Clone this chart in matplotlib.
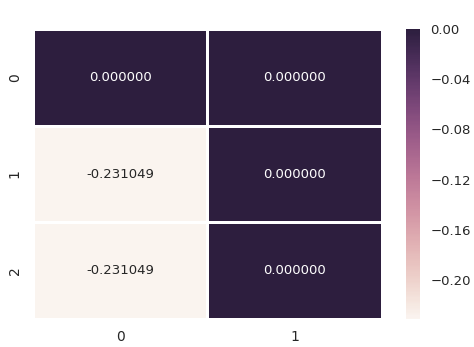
import numpy as np
import matplotlib
matplotlib.use("Agg")
import matplotlib.pyplot as plt
import seaborn as sns

sns.set_theme(style="darkgrid")
plt.rcParams['font.family'] = ['DejaVu Sans']

row_labels = ["0", "1", "2"]
col_labels = ["0", "1"]
values = np.array([
    [0.000000, 0.000000],
    [-0.231049, 0.000000],
    [-0.231049, 0.000000],
])

fig = plt.figure(figsize=(4.74, 3.47), dpi=100)
ax = fig.add_axes([0.0696, 0.081, 0.736, 0.835])
cax = fig.add_axes([0.857, 0.081, 0.030, 0.835])

cmap = sns.cubehelix_palette(light=0.96, as_cmap=True)
sns.heatmap(values, ax=ax, cbar_ax=cax, cmap=cmap, annot=True, fmt="f",
            linewidths=1, linecolor="white",
            xticklabels=col_labels, yticklabels=row_labels,
            annot_kws={"fontsize": 9.5})

ax.tick_params(axis="both", labelsize=10, length=0, pad=8)
ax.set_yticklabels(row_labels, rotation=90, va="center")
ax.set_xticklabels(col_labels, rotation=0)
cax.tick_params(labelsize=9.5, length=0, pad=7)
cax.set_yticks([0.0, -0.04, -0.08, -0.12, -0.16, -0.20])
cax.set_yticklabels(["0.00", "\u22120.04", "\u22120.08", "\u22120.12", "\u22120.16", "\u22120.20"])

fig.savefig("out.png", dpi=100)
